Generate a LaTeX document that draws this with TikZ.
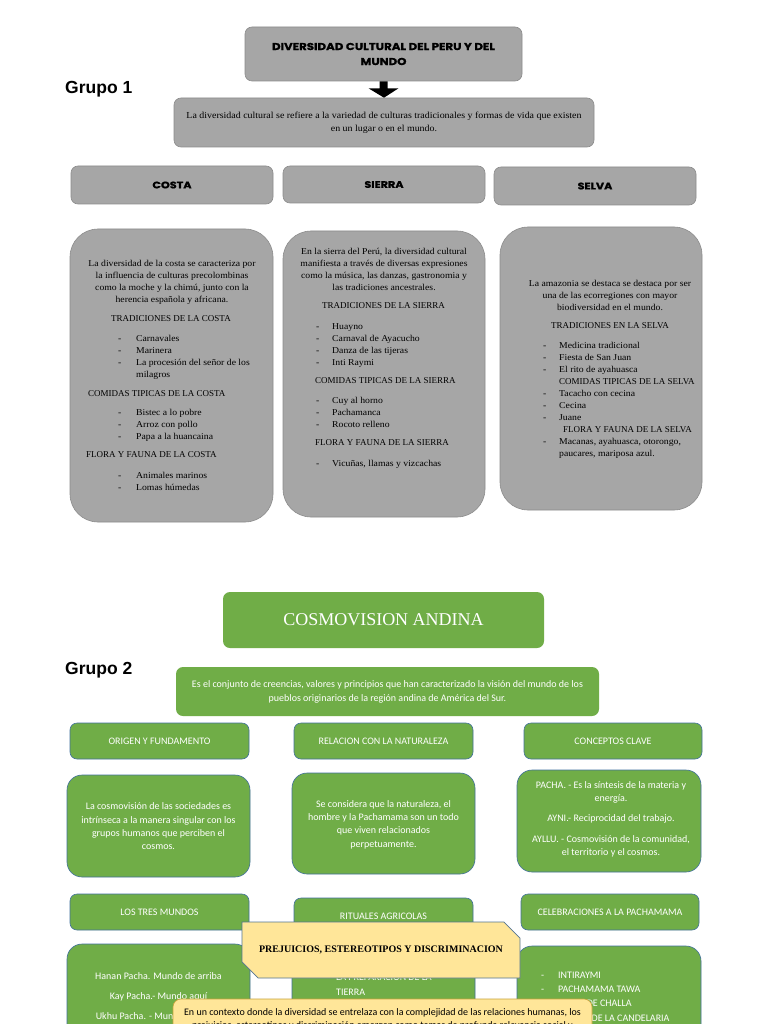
\documentclass[tikz,border=0pt]{standalone}
\usepackage{fontspec}
\setmainfont{Liberation Serif}
\newfontfamily\bodyfont{Liberation Serif}[FakeStretch=1.08]
\newfontfamily\popfont{Poppins}[FakeStretch=1.18, BoldFeatures={FakeBold=1.2}]
\newfontfamily\calfont{Carlito}
\newfontfamily\arifont{Liberation Sans}
\usetikzlibrary{shapes.misc,calc}
\definecolor{boxgray}{HTML}{A6A6A6}
\definecolor{graybd}{HTML}{8C8C8C}
\definecolor{agreen}{HTML}{70AD47}
\definecolor{bluebd}{HTML}{41719C}
\definecolor{ayellow}{HTML}{FFE699}
\definecolor{yellowbd}{HTML}{C9A23A}
\newcommand{\dl}[2][16pt]{\makebox[#1][l]{-}#2}
\newcommand{\dc}[2][16pt]{\hspace*{#1}#2}
\newcommand{\hd}[1]{{\rmfamily #1}}
\begin{document}
\begin{tikzpicture}[x=1pt,y=-1pt,
  graybox/.style={draw=graybd, fill=boxgray, rounded corners=7pt, line width=0.6pt, inner sep=0pt},
  grayhead/.style={graybox, minimum width=202pt, minimum height=38pt, font=\popfont\bfseries\fontsize{9.5}{11}\selectfont},
  graydet/.style={graybox, rounded corners=28pt, minimum width=202pt},
  body/.style={inner sep=0pt, font=\bodyfont\fontsize{9}{12}\selectfont, align=left},
  bhead/.style={inner sep=0pt, font=\rmfamily\fontsize{9}{12}\selectfont},
  grp/.style={inner sep=0pt, font=\arifont\bfseries\fontsize{17.5}{20}\selectfont},
  greenbox/.style={fill=agreen, rounded corners=7pt, inner sep=0pt, text=white},
  greenhead/.style={greenbox, draw=bluebd, line width=0.6pt, minimum width=179pt, minimum height=36pt, font=\calfont\fontsize{10}{12}\selectfont},
  greendet/.style={greenbox, draw=bluebd, line width=0.6pt, rounded corners=15pt, minimum width=183pt},
  gtext/.style={inner sep=0pt, text=white, font=\calfont\fontsize{10}{13.4}\selectfont, align=center},
  ybox/.style={fill=ayellow, inner sep=0pt}
]
\useasboundingbox (0,0) rectangle (768,1024);
\clip (0,0) rectangle (768,1024);
\fill[white] (0,0) rectangle (768,1024);

% ---------- Grupo 1 ----------
\node[graybox, minimum width=277pt, minimum height=54pt, align=center,
      font=\popfont\bfseries\fontsize{10}{15}\selectfont] (title) at (383.5,54)
      {DIVERSIDAD CULTURAL DEL PERU Y DEL\\MUNDO};
\node[grp, anchor=mid west] (g1) at (65,91) {Grupo 1};
\node[graybox, minimum width=420pt, minimum height=49pt, align=center,
      font=\bodyfont\fontsize{9.2}{13}\selectfont] (def) at (384,122.5)
      {La diversidad cultural se refiere a la variedad de culturas tradicionales y formas de vida que existen\\en un lugar o en el mundo.};
\fill[black] ($(title.south)+(-4,0)$) -- ($(title.south)+(4,0)$) -- ($(title.south)+(4,7)$)
  -- ($(title.south)+(15,7)$) -- (def.north) -- ($(title.south)+(-15,7)$)
  -- ($(title.south)+(-4,7)$) -- cycle;

\node[grayhead] (costa) at (172,185) {COSTA};
\node[grayhead, minimum height=37pt] (sierra) at (384,184.5) {SIERRA};
\node[grayhead] (selva) at (595,186) {SELVA};

\node[graydet, minimum width=203pt, minimum height=293pt] (costaD) at (171.5,375.5) {};
\node[graydet, minimum height=286pt] (sierraD) at (384,374) {};
\node[graydet, minimum height=283pt] (selvaD) at (601,368.5) {};

% costa text
\node[body, align=center, anchor=north, font=\bodyfont\fontsize{9}{11.8}\selectfont] (ct1) at (172,260.5)
  {La diversidad de la costa se caracteriza por\\la influencia de culturas precolombinas\\como la moche y la chimú, junto con la\\herencia española y africana.};
\node[bhead, anchor=mid] (ct2) at (171,319.5) {TRADICIONES DE LA COSTA};
\node[body, anchor=north west] (ct3) at (118,335)
  {\dl[18pt]{Carnavales}\\\dl[18pt]{Marinera}\\\dl[18pt]{La procesión del señor de los}\\\dc[18pt]{milagros}};
\node[bhead, anchor=mid west] (ct4) at (88,394.5) {COMIDAS TIPICAS DE LA COSTA};
\node[body, anchor=north west] (ct5) at (118,409)
  {\dl[18pt]{Bistec a lo pobre}\\\dl[18pt]{Arroz con pollo}\\\dl[18pt]{Papa a la huancaina}};
\node[bhead, anchor=mid west] (ct6) at (86,455.5) {FLORA Y FAUNA DE LA COSTA};
\node[body, anchor=north west] (ct7) at (118,472)
  {\dl[18pt]{Animales marinos}\\\dl[18pt]{Lomas húmedas}};

% sierra text
\node[body, align=center, anchor=north] (st1) at (384,248)
  {En la sierra del Perú, la diversidad cultural\\manifiesta a través de diversas expresiones\\como la música, las danzas, gastronomia y\\las tradiciones ancestrales.};
\node[bhead, anchor=mid west] (st2) at (322,306.5) {TRADICIONES DE LA SIERRA};
\node[body, anchor=north west] (st3) at (316,323)
  {\dl{Huayno}\\\dl{Carnaval de Ayacucho}\\\dl{Danza de las tijeras}\\\dl{Inti Raymi}};
\node[bhead, anchor=mid west] (st4) at (315,381.5) {COMIDAS TIPICAS DE LA SIERRA};
\node[body, anchor=north west] (st5) at (316,397)
  {\dl{Cuy al horno}\\\dl{Pachamanca}\\\dl{Rocoto relleno}};
\node[bhead, anchor=mid west] (st6) at (315,443.5) {FLORA Y FAUNA DE LA SIERRA};
\node[body, anchor=north west] (st7) at (316,460) {\dl{Vicuñas, llamas y vizcachas}};

% selva text
\node[body, align=center, anchor=north] (vt1) at (610,280)
  {La amazonia se destaca se destaca por ser\\una de las ecorregiones con mayor\\biodiversidad en el mundo.};
\node[bhead, anchor=mid] (vt2) at (610,326.5) {TRADICIONES EN LA SELVA};
\node[body, anchor=north west] (vt3) at (543,342)
  {\dl{Medicina tradicional}\\\dl{Fiesta de San Juan}\\\dl{El rito de ayahuasca}\\\dc{\hd{COMIDAS TIPICAS DE LA SELVA}}\\\dl{Tacacho con cecina}\\\dl{Cecina}\\\dl{Juane}\\\dc[20pt]{\hd{FLORA Y FAUNA DE LA SELVA}}\\\dl{Macanas, ayahuasca, otorongo,}\\\dc{paucares, mariposa azul.}};

% ---------- Grupo 2 ----------
\node[greenbox, minimum width=321pt, minimum height=56pt, font=\fontsize{18}{21}\selectfont] (cosmo) at (383.5,620) {COSMOVISION ANDINA};
\node[grp, anchor=mid west] (g2) at (65,672) {Grupo 2};
\node[greenbox, minimum width=423pt, minimum height=49pt, align=center, font=\calfont\fontsize{10}{14}\selectfont] (gdef) at (387.5,691.5)
  {Es el conjunto de creencias, valores y principios que han caracterizado la visión del mundo de los\\pueblos originarios de la región andina de América del Sur.};

\node[greenhead] (origen) at (159.5,741) {ORIGEN Y FUNDAMENTO};
\node[greenhead] (relacion) at (383.5,741) {RELACION CON LA NATURALEZA};
\node[greenhead, minimum width=178pt] (conceptos) at (613,741) {CONCEPTOS CLAVE};

\node[greendet, minimum height=102pt] (origenD) at (158.5,826) {};
\node[greendet, minimum height=101pt] (relacionD) at (383.5,823.5) {};
\node[greendet, minimum width=184pt, minimum height=102pt] (conceptosD) at (609,821) {};

\node[gtext, anchor=north] (ot) at (158.5,802.5)
  {La cosmovisión de las sociedades es\\intrínseca a la manera singular con los\\grupos humanos que perciben el\\cosmos.};
\node[gtext, anchor=north] (rt) at (383.5,800)
  {Se considera que la naturaleza, el\\hombre y la Pachamama son un todo\\que viven relacionados\\perpetuamente.};
\node[gtext, anchor=north, font=\calfont\fontsize{10}{13}\selectfont] (kt) at (611,781.5)
  {PACHA. - Es la síntesis de la materia y\\energía.\\[7pt]AYNI.- Reciprocidad del trabajo.\\[8pt]AYLLU. - Cosmovisión de la comunidad,\\el territorio y el cosmos.};

\node[greenhead] (tres) at (159.5,912) {LOS TRES MUNDOS};
\node[greenhead, minimum height=37pt] (rituales) at (383.5,916.5) {RITUALES AGRICOLAS};
\node[greenhead, minimum width=178pt] (celeb) at (610,912) {CELEBRACIONES A LA PACHAMAMA};

\node[greendet, minimum height=110pt] (tresD) at (158.5,999) {};
\node[greendet, minimum height=100pt] (ritualesD) at (383.5,1005) {};
\node[greendet, minimum width=184pt, minimum height=110pt] (celebD) at (609,1001) {};

\node[gtext, anchor=north, font=\calfont\fontsize{10}{13}\selectfont] (tt) at (158.5,972)
  {Hanan Pacha. Mundo de arriba\\[7pt]Kay Pacha.- Mundo aquí\\[7pt]Ukhu Pacha. - Mundo de abajo};
\node[gtext, anchor=north west, align=left, font=\calfont\fontsize{10}{15}\selectfont] (rtt) at (336,974)
  {LA PREPARACION DE LA\\TIERRA};
\node[gtext, anchor=north west, align=left, font=\calfont\fontsize{10}{14.3}\selectfont] (ct) at (541,971.5)
  {\dl[17pt]{INTIRAYMI}\\\dl[17pt]{PACHAMAMA TAWA}\\\dl[17pt]{FIESTA DE CHALLA}\\\dl[17pt]{VIRGEN DE LA CANDELARIA}};

% ---------- overlays ----------
\node[ybox, draw=bluebd!70!gray, line width=0.6pt, chamfered rectangle, chamfered rectangle corners={north east,south west},
      chamfered rectangle xsep=12pt, chamfered rectangle ysep=12pt, minimum width=278pt, minimum height=56pt,
      font=\bfseries\fontsize{10}{12}\selectfont] (prej) at (381,950) {PREJUICIOS, ESTEREOTIPOS Y DISCRIMINACION};
\node[ybox, draw=yellowbd, line width=0.6pt, rounded corners=8pt, minimum width=419pt, minimum height=48pt] (yb) at (382.5,1023) {};
\node[inner sep=0pt, anchor=north, align=center, font=\calfont\fontsize{10}{13}\selectfont] (ybt) at (382.5,1008)
  {En un contexto donde la diversidad se entrelaza con la complejidad de las relaciones humanas, los\\prejuicios, estereotipos y discriminación emergen como temas de profunda relevancia social y};
\end{tikzpicture}
\end{document}
